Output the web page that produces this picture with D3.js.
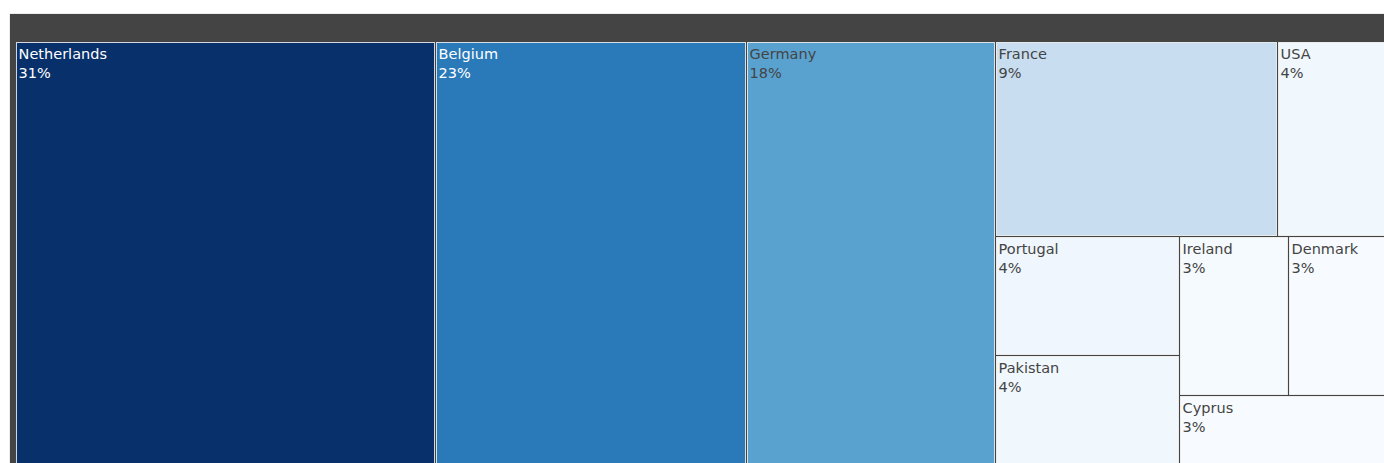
<!DOCTYPE html>
<html>
<head>
<meta charset="utf-8">
<script src="https://cdn.jsdelivr.net/npm/d3@7"></script>
<style>
  html, body { margin: 0; padding: 0; background: #fff; overflow: hidden; }
  svg { display: block; }
</style>
</head>
<body>
<svg id="chart" width="1384" height="463"></svg>
<script>
// ---- data ----
const countries = ["Netherlands", "Belgium", "Germany", "France", "USA",
                   "Portugal", "Pakistan", "Ireland", "Denmark", "Cyprus"];
const shares    = [30.58, 22.64, 18.13, 9.26, 3.67,
                   3.69, 3.66, 2.92, 2.70, 2.76];
const blueStops = ["rgb(247,251,255)", "rgb(222,235,247)", "rgb(198,219,239)",
                   "rgb(158,202,225)", "rgb(107,174,214)", "rgb(66,146,198)",
                   "rgb(33,113,181)", "rgb(8,81,156)", "rgb(8,48,107)"];

// ---- layout ----
const rootX = 9, rootY = 13;          // outer (root) box
const innerX = 16, innerY = 42;       // where the children start
const innerW = 1374, innerH = 432;    // extends past the visible window

const svg = d3.select("#chart");

const rootData = {
  name: "",
  children: countries.map((c, i) => ({ name: c, value: shares[i] }))
};
const root = d3.hierarchy(rootData).sum(d => d.value || 0);
d3.treemap()
  .tile(d3.treemapSquarify.ratio(1))
  .size([innerW, innerH])
  .round(false)(root);

const total = root.value;
const pct = d3.format(".0%");

const color = d3.scaleSequential(d3.piecewise(d3.interpolateRgb, blueStops))
  .domain(d3.extent(shares));

// root box
svg.append("rect")
  .attr("x", rootX + 0.5).attr("y", rootY + 0.5)
  .attr("width", 1500).attr("height", 600)
  .attr("fill", "#444")
  .attr("stroke", "rgba(255,255,255,0.8)")
  .attr("stroke-width", 1);

const leaves = root.leaves();
const g = svg.append("g");

const cell = g.selectAll("g.cell").data(leaves).join("g").attr("class", "cell");

cell.each(function(d) {
  const a = Math.round(innerX + d.x0), b = Math.round(innerX + d.x1);
  const t = Math.round(innerY + d.y0), u = Math.round(innerY + d.y1);
  d.px = { a, b, t, u };
});

cell.append("rect")
  .attr("x", d => d.px.a + 0.5)
  .attr("y", d => d.px.t + 0.5)
  .attr("width", d => d.px.b - d.px.a - 2)
  .attr("height", d => d.px.u - d.px.t - 2)
  .attr("fill", d => color(d.data.value))
  .attr("stroke", "rgba(255,255,255,0.8)")
  .attr("stroke-width", 1);

const textColor = d => (d3.lab(color(d.data.value)).l > 55 ? "#444" : "#fff");

const txt = cell.append("text")
  .attr("font-family", "'DejaVu Sans', sans-serif")
  .attr("font-size", 14.5)
  .attr("fill", textColor);

txt.append("tspan")
  .attr("x", d => d.px.a + 2.6)
  .attr("y", d => d.px.t + 17)
  .text(d => d.data.name);
txt.append("tspan")
  .attr("x", d => d.px.a + 2.6)
  .attr("y", d => d.px.t + 36)
  .text(d => pct(d.data.value / total));
</script>
</body>
</html>
